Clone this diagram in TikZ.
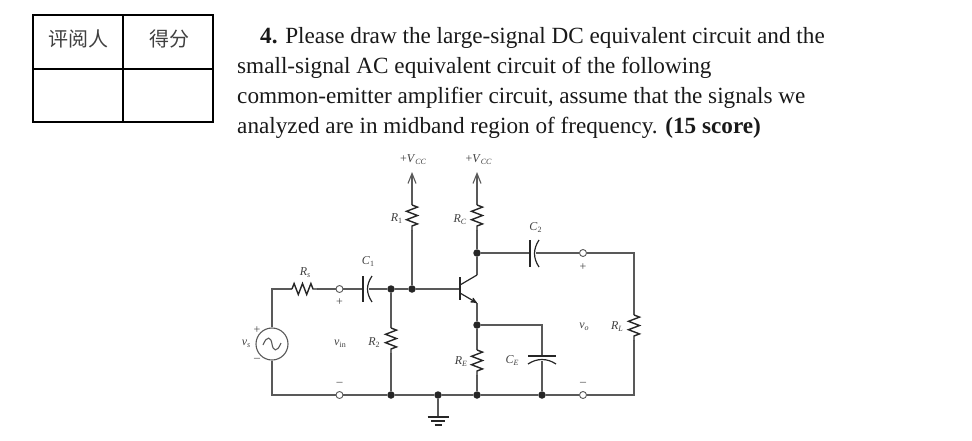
\documentclass[tikz,border=0pt]{standalone}
\usepackage{fontspec}
\usepackage{amsmath}
\setmainfont{Liberation Serif}
\newfontfamily\cjk{Noto Sans CJK SC}[Scale=1]
\usetikzlibrary{arrows,arrows.meta,decorations.pathmorphing}
\definecolor{wirecol}{gray}{0.35}
\newcommand{\lab}[2]{\textit{#1}\raisebox{-2pt}{\fontsize{8}{9}\selectfont #2}}
\tikzset{
	wire/.style={draw=wirecol, line width=1.1pt},
	grid/.style={draw=black, line width=1.1pt},
	plate/.style={draw=black!85, line width=1.2pt},
	zig/.style={draw=black!85, line width=1.4pt, decorate, decoration={zigzag, segment length=8.4pt, amplitude=5.5pt}},
	dot/.style={circle, fill=black!85, inner sep=0pt, minimum size=7.5pt},
	opn/.style={circle, draw=wirecol, fill=white, line width=0.9pt, inner sep=0pt, minimum size=7pt},
	lbl/.style={font=\fontsize{12}{14}\selectfont, text=black!75, inner sep=0pt},
	para/.style={anchor=base west, inner sep=0pt, font=\fontsize{23.2}{30}\selectfont, text=black!90},
	barb/.style={-{Straight Barb[length=10pt,width=8pt]}}
}
\begin{document}
\begin{tikzpicture}[x=1pt, y=-1pt]
	\useasboundingbox (0,0) rectangle (972,440);
	% score table
	\draw[grid] (33,15) rectangle (213,122);
	\draw[grid] (33,69) -- (213,69);
	\draw[grid] (123,15) -- (123,122);
	\node[font=\cjk\fontsize{20}{22}\selectfont, text=black!75] (reviewer) at (78.5,39) {评阅人};
	\node[font=\cjk\fontsize{20}{22}\selectfont, text=black!75] (score) at (169.5,39) {得分};
	% question
	\node[para] (line1) at (260,43) {\textbf{4.} Please draw the large-signal DC equivalent circuit and the};
	\node[para] (line2) at (237,73) {small-signal AC equivalent circuit of the following};
	\node[para] (line3) at (237,103) {common-emitter amplifier circuit, assume that the signals we};
	\node[para] (line4) at (237,133) {analyzed are in midband region of frequency. \textbf{(15 score)}};
	% junctions and terminals
	\node[dot] (jb) at (391,289) {};
	\node[dot] (jr) at (412,289) {};
	\node[dot] (jc) at (477,253) {};
	\node[dot] (je) at (477,325) {};
	\node[dot] (g2) at (391,395) {};
	\node[dot] (g3) at (438,395) {};
	\node[dot] (g4) at (477,395) {};
	\node[dot] (g5) at (542,395) {};
	\node[opn] (tin) at (339.5,289) {};
	\node[opn] (tinb) at (339.5,395) {};
	\node[opn] (tout) at (583,253) {};
	\node[opn] (toutb) at (583,395) {};
	\node[circle, draw=wirecol, line width=1.1pt, minimum size=32pt, inner sep=0pt] (vs) at (272,344) {};
	\draw[wirecol, line width=1.1pt] (263,345) .. controls (267,335) and (271,337) .. (272,344) .. controls (273,351) and (277,353) .. (281,343);
	% named wire ends
	\coordinate (cnw) at (272,289);
	\coordinate (csw) at (272,395);
	\coordinate (cne) at (634,253);
	\coordinate (cse) at (634,395);
	\coordinate (cce) at (542,325);
	\coordinate (rsa) at (292,289);
	\coordinate (rsb) at (317,289);
	\coordinate (c1a) at (363,289);
	\coordinate (c1b) at (369,289);
	\coordinate (r1a) at (412,205);
	\coordinate (r1b) at (412,230);
	\coordinate (v1) at (412,172);
	\coordinate (rca) at (477,205);
	\coordinate (rcb) at (477,230);
	\coordinate (v2) at (477,172);
	\coordinate (r2a) at (391,328);
	\coordinate (r2b) at (391,353);
	\coordinate (rea) at (477,350);
	\coordinate (reb) at (477,375);
	\coordinate (rla) at (634,315);
	\coordinate (rlb) at (634,340);
	\coordinate (c2a) at (530,253);
	\coordinate (c2b) at (536,253);
	\coordinate (cea) at (542,356);
	\coordinate (ceb) at (542,361);
	\coordinate (qb) at (460,289);
	\coordinate (qc) at (477,275);
	\coordinate (qe) at (477,303);
	\coordinate (gnd) at (438,417);
	% wiring
	\draw[wire] (vs) -- (cnw) -- (rsa);
	\draw[wire] (vs) -- (csw) -- (tinb) -- (g2) -- (g3) -- (g4) -- (g5) -- (toutb) -- (cse) -- (rlb);
	\draw[wire] (rla) -- (cne) -- (tout) -- (c2b);
	\draw[wire] (rsb) -- (tin) -- (c1a);
	\draw[wire] (c1b) -- (jb) -- (jr) -- (qb);
	\draw[wire,barb] (r1a) -- (v1);
	\draw[wire] (jr) -- (r1b);
	\draw[wire,barb] (rca) -- (v2);
	\draw[wire] (jc) -- (rcb);
	\draw[wire] (jc) -- (c2a);
	\draw[wire] (jb) -- (r2a);
	\draw[wire] (r2b) -- (g2);
	\draw[wire] (g3) -- (gnd);
	\draw[wire] (jc) -- (qc);
	\draw[wire] (qe) -- (je) -- (rea);
	\draw[wire] (reb) -- (g4);
	\draw[wire] (je) -- (cce) -- (cea);
	\draw[wire] (ceb) -- (g5);
	% resistors
	\draw[zig] (rsa) -- (rsb);
	\draw[zig] (r1a) -- (r1b);
	\draw[zig] (rca) -- (rcb);
	\draw[zig] (r2a) -- (r2b);
	\draw[zig] (rea) -- (reb);
	\draw[zig] (rla) -- (rlb);
	% capacitors
	\draw[plate] (363,276) -- (363,302);
	\draw[plate] (372,276) .. controls (366,285) and (366,293) .. (372,302);
	\draw[plate] (530,240) -- (530,267);
	\draw[plate] (539,240) .. controls (533,249) and (533,258) .. (539,267);
	\draw[plate] (528,356) -- (556,356);
	\draw[plate] (528,364) .. controls (537,358) and (547,358) .. (556,364);
	% transistor
	\draw[plate, line width=1.6pt] (460,277) -- (460,300);
	\draw[plate] (460,285) -- (qc);
	\draw[plate, -stealth'] (460,293) -- (qe);
	% ground
	\draw[plate] (427.5,417) -- (448.5,417);
	\draw[plate] (431,421) -- (445,421);
	\draw[plate] (434.5,425) -- (441.5,425);
	% labels
	\node[lbl] (lv1) at (413,160) {+\lab{V}{\textit{CC}}};
	\node[lbl] (lv2) at (478.5,160) {+\lab{V}{\textit{CC}}};
	\node[lbl] (lr1) at (396.5,219) {\lab{R}{1}};
	\node[lbl] (lrc) at (460,220) {\lab{R}{\textit{C}}};
	\node[lbl] (lc1) at (368,262) {\lab{C}{1}};
	\node[lbl] (lc2) at (535.5,228) {\lab{C}{2}};
	\node[lbl] (lrs) at (305,273) {\lab{R}{\textit{s}}};
	\node[lbl] (lr2) at (374,343) {\lab{R}{2}};
	\node[lbl] (lre) at (461,362) {\lab{R}{\textit{E}}};
	\node[lbl] (lce) at (512,361) {\lab{C}{\textit{E}}};
	\node[lbl] (lrl) at (617,327) {\lab{R}{\textit{L}}};
	\node[lbl] (lvs) at (246,344) {\lab{v}{\textit{s}}};
	\node[lbl] (lvin) at (340,344) {\lab{v}{in}};
	\node[lbl] (lvo) at (584,327) {\lab{v}{\textit{o}}};
	\node[lbl] (pin) at (339.5,302) {+};
	\node[lbl] (min) at (339.5,384) {--};
	\node[lbl] (pout) at (583,267) {+};
	\node[lbl] (mout) at (583,384) {--};
	\node[lbl] (pvs) at (257,330) {+};
	\node[lbl] (mvs) at (257,360) {--};
\end{tikzpicture}
\end{document}
